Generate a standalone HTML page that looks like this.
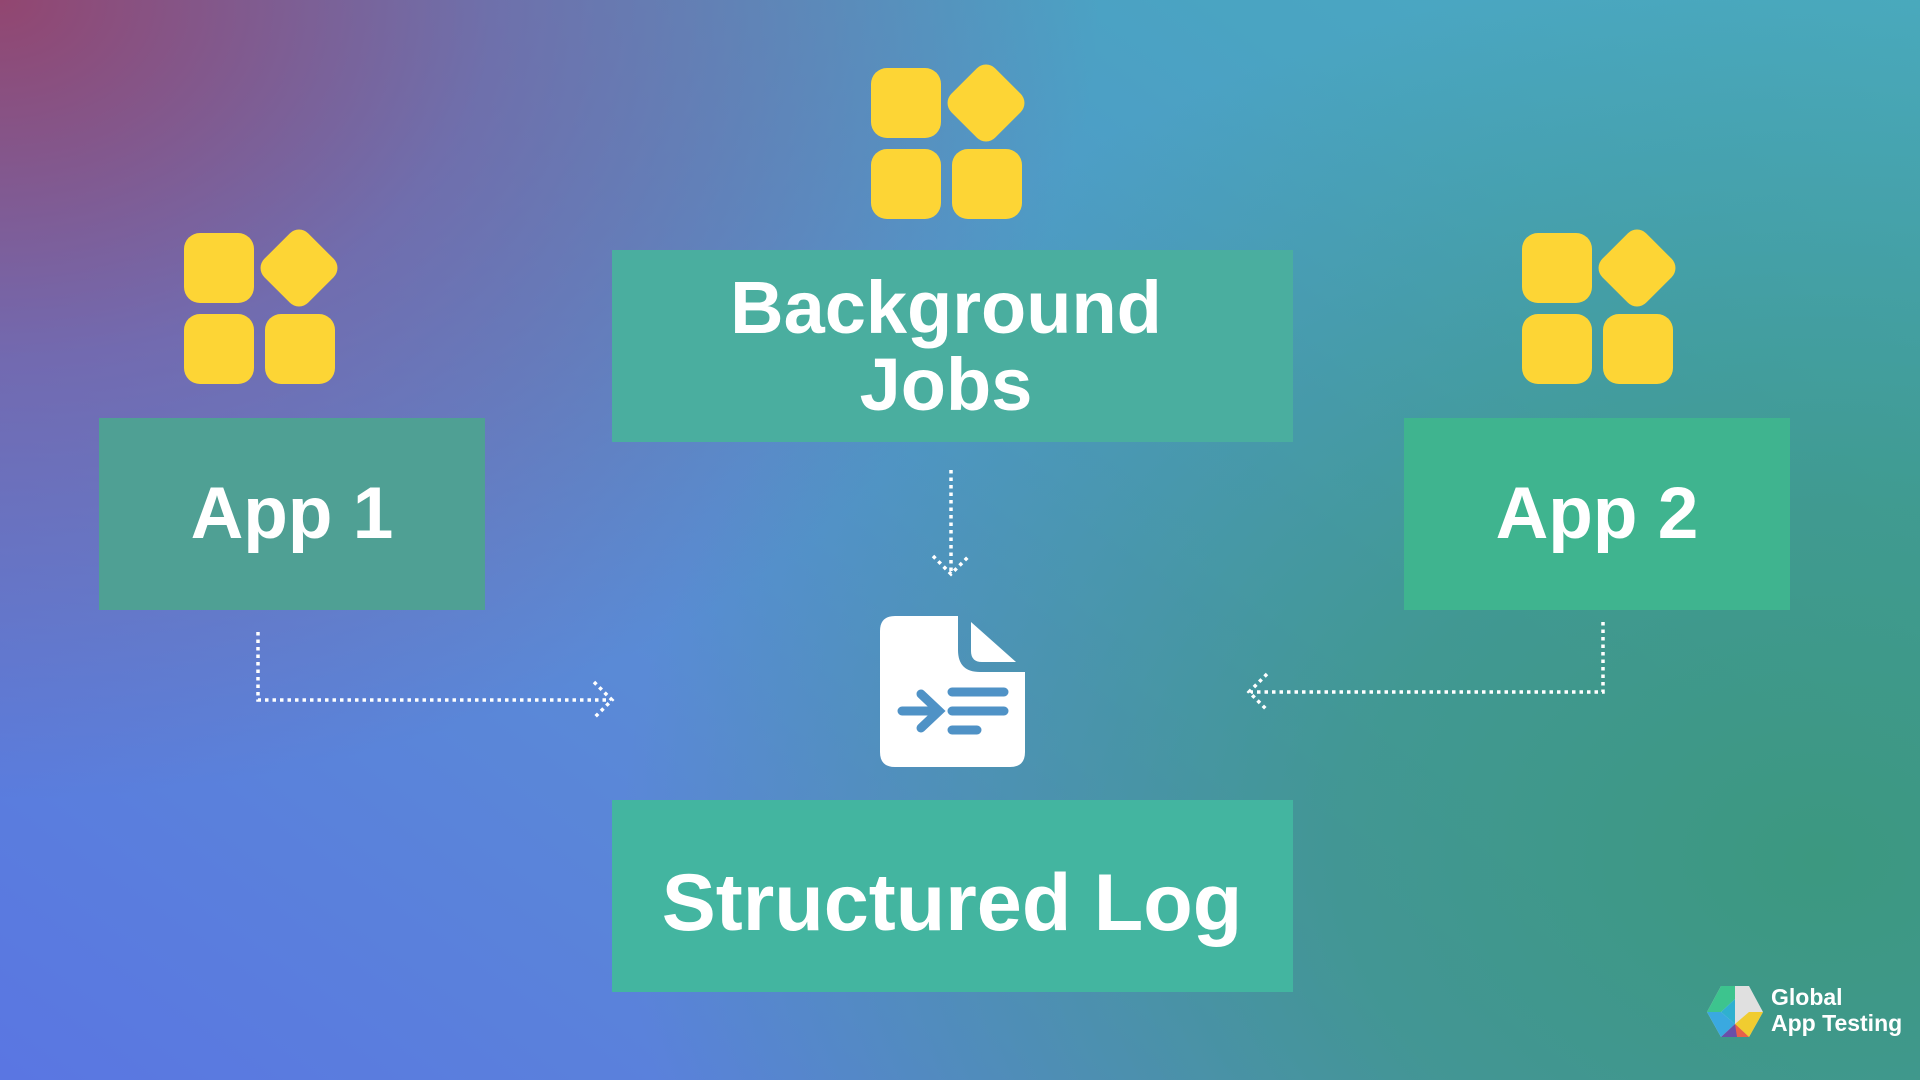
<!DOCTYPE html>
<html><head><meta charset="utf-8"><style>
html,body{margin:0;padding:0;width:1920px;height:1080px;overflow:hidden}
body{background:
radial-gradient(ellipse 1200px 900px at 1820px 860px,rgba(60,152,128,1) 0%,rgba(60,152,128,0.75) 40%,rgba(60,152,128,0) 100%),
radial-gradient(ellipse 1100px 800px at 0px 0px,rgba(146,70,112,1) 0%,rgba(130,86,150,0.6) 45%,rgba(120,100,180,0) 100%),
linear-gradient(35deg,#5a76e2 0%,#5a8ad6 35%,#5196cc 55%,#4aa4c2 80%,#4aaac0 100%);
font-family:"Liberation Sans",sans-serif;}
</style></head><body>
<svg width="1920" height="1080" viewBox="0 0 1920 1080" xmlns="http://www.w3.org/2000/svg" style="position:absolute;left:0;top:0">
<defs>
<g id="ic">
<rect x="0" y="0" width="70" height="70" rx="16" fill="#fdd535"/>
<rect x="0" y="81" width="70" height="70" rx="16" fill="#fdd535"/>
<rect x="81" y="81" width="70" height="70" rx="16" fill="#fdd535"/>
<rect x="84" y="4" width="62" height="62" rx="13" fill="#fdd535" transform="rotate(45 115 35)"/>
</g>
</defs>
<use href="#ic" x="184" y="233"/>
<use href="#ic" x="871" y="68"/>
<use href="#ic" x="1522" y="233"/>

<rect x="99" y="418" width="386" height="192" fill="#4fa094"/>
<rect x="612" y="250" width="681" height="192" fill="#4aae9f"/>
<rect x="1404" y="418" width="386" height="192" fill="#3fb48f"/>
<rect x="612" y="800" width="681" height="192" fill="#43b5a0"/>

<g fill="#fff" font-family="Liberation Sans, sans-serif" font-weight="bold" text-anchor="middle">
<text x="292" y="538" font-size="73">App 1</text>
<text x="1597" y="538" font-size="73">App 2</text>
<text x="946" y="333" font-size="74">Background</text>
<text x="946" y="410" font-size="74">Jobs</text>
<text x="952" y="930" font-size="81">Structured Log</text>
</g>

<g stroke="#fff" stroke-width="3.5" fill="none" stroke-dasharray="3.5 4">
<path d="M258 632 V700 H610"/>
<path d="M594 682 L612 700 L594 718"/>
<path d="M951 470 V574"/>
<path d="M933 556 L951 574 L969 556"/>
<path d="M1603 622 V692 H1251"/>
<path d="M1267 674 L1249 692 L1267 710"/>
</g>

<path d="M895 616 H958 V650 Q958 672 980 672 H1025 V752 Q1025 767 1010 767 H895 Q880 767 880 752 V631 Q880 616 895 616 Z" fill="#fff"/>
<path d="M971 622 L1016 662 H982 Q971 662 971 651 Z" fill="#fff"/>
<g stroke="#4f92c6" stroke-width="9" stroke-linecap="round" fill="none">
<path d="M902 711 H937 M921 694 L939 711 L921 728"/>
<path d="M952 692 H1004 M952 711 H1004 M952 730 H977"/>
</g>

<g transform="translate(1707,986)">
<polygon points="14,0 42,0 56,26 42,51 14,51 0,26" fill="#e0e0e0"/>
<polygon points="14,0 28,0 28,13 14,26 0,26" fill="#3dc48e"/>
<polygon points="0,26 14,26 28,38 14,51" fill="#3aa9e0"/>
<polygon points="14,26 28,13 28,38" fill="#2fb0d0"/>
<polygon points="14,51 28,38 42,51" fill="#6a4fa8"/>
<polygon points="28,38 42,26 56,26 42,51" fill="#f0cc30"/>
<polygon points="28,38 42,51 30,51" fill="#e8604a"/>
</g>
<g fill="#fff" font-family="Liberation Sans, sans-serif" font-weight="bold" font-size="23">
<text x="1771" y="1005">Global</text>
<text x="1771" y="1031">App Testing</text>
</g>
</svg>
</body></html>
